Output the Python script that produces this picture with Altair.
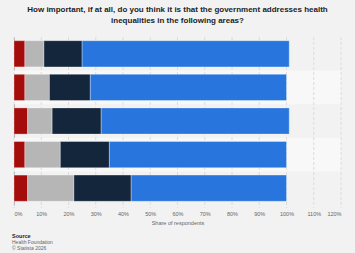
import altair as alt
import pandas as pd

# ---- data ----
categories = ["Area 1", "Area 2", "Area 3", "Area 4", "Area 5"]
series = ["Not at all important", "Not very important", "Fairly important", "Very important"]
colors = ["#a50d0d", "#b6b6b6", "#13263b", "#2876dd"]
not_at_all = [4, 4, 5, 4, 5]
not_very = [7, 9, 9, 13, 17]
fairly = [14, 15, 18, 18, 21]
very = [76, 72, 69, 65, 57]
x_ticks = [0, 10, 20, 30, 40, 50, 60, 70, 80, 90, 100, 110, 120]
title_lines = ["How important, if at all, do you think it is that the government addresses health",
               "inequalities in the following areas?"]
source_head = "Source"
source_org = "Health Foundation"
source_copy = "© Statista 2026"

vals = [not_at_all, not_very, fairly, very]
rows = []
for i, c in enumerate(categories):
    for j, s in enumerate(series):
        rows.append({"category": c, "series": s, "ord": j, "value": vals[j][i]})
df = pd.DataFrame(rows)

bg_df = pd.DataFrame({"category": categories,
                      "shade": [i % 2 for i in range(len(categories))],
                      "x0": [0] * len(categories), "x1": [120] * len(categories)})
bg_df = bg_df[bg_df["shade"] == 1]
grid_df = pd.DataFrame({"t": x_ticks})
txt_df = pd.DataFrame({"a": [0]})

W, H = 327, 168
FONT = "Liberation Sans"
xscale = alt.Scale(domain=[0, 120], nice=False, zero=True)
xaxis = alt.Axis(values=x_ticks, labelExpr="datum.value + '%'", grid=False,
                 ticks=False, domain=False, labelFontSize=5.5, labelColor="#666666",
                 labelFont=FONT, labelPadding=6, title="Share of respondents",
                 titleFontSize=5.5, titleFont=FONT, titleColor="#666666",
                 titleFontWeight="normal", titlePadding=4)

bg = alt.Chart(bg_df).mark_rect(fill="#f8f8f8").encode(
    x=alt.X("x0:Q", scale=xscale, axis=xaxis),
    x2="x1:Q",
    y=alt.Y("category:N", sort=categories,
            scale=alt.Scale(domain=categories, paddingInner=0, paddingOuter=0), axis=None),
)

grid = alt.Chart(grid_df).mark_rule(color="#d6d6d6", strokeDash=[3, 2], strokeWidth=0.8).encode(
    x=alt.X("t:Q", scale=xscale, axis=xaxis),
    y=alt.value(0), y2=alt.value(H + 3),
)

bars = alt.Chart(df).mark_bar(stroke="#ffffff", strokeWidth=0.4, strokeOpacity=0.8).encode(
    x=alt.X("sum(value):Q", scale=xscale, stack="zero", axis=xaxis),
    y=alt.Y("category:N", sort=categories,
            scale=alt.Scale(domain=categories, paddingInner=0.22, paddingOuter=0.11),
            axis=alt.Axis(labels=False, ticks=False, title=None, domain=True,
                          domainColor="#9a9a9a", domainWidth=0.8)),
    color=alt.Color("series:N", sort=series,
                    scale=alt.Scale(domain=series, range=colors), legend=None),
    order=alt.Order("ord:Q"),
)

head = alt.Chart(txt_df).mark_text(align="left", baseline="middle", font=FONT,
                                   fontSize=5.5, fontWeight="bold", color="#222222",
                                   text=source_head).encode(
    x=alt.value(-2), y=alt.value(H + 31),
)
org = alt.Chart(txt_df).mark_text(align="left", baseline="middle", font=FONT,
                                  fontSize=5, color="#666666", text=source_org).encode(
    x=alt.value(-2), y=alt.value(H + 37),
)
cpy = alt.Chart(txt_df).mark_text(align="left", baseline="middle", font=FONT,
                                  fontSize=5, color="#666666", text=source_copy).encode(
    x=alt.value(-2), y=alt.value(H + 43),
)

chart = alt.layer(bg, grid, bars, head, org, cpy).resolve_scale(y="independent").properties(
    width=W, height=H,
    autosize=alt.AutoSizeParams(type="none"),
    padding={"left": 14, "top": 37, "right": 14, "bottom": 48},
    background="#f2f2f2",
    title=alt.TitleParams(text=title_lines, fontSize=8, font=FONT, fontWeight="bold",
                          color="#222222", anchor="middle", offset=12, lineHeight=11),
).configure_view(stroke=None)

chart.save("out.html", embed_options={"renderer": "svg", "actions": False})
